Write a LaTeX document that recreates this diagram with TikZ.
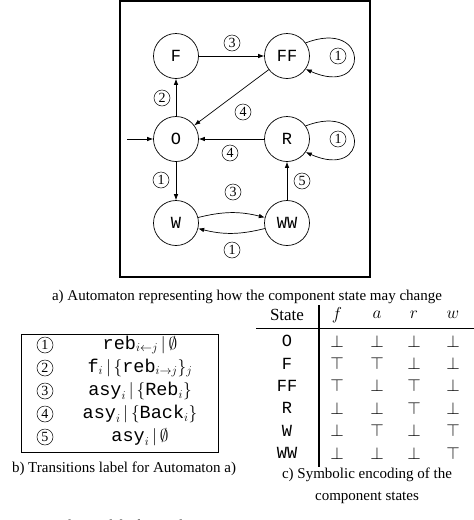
\documentclass[tikz,border=0pt]{standalone}
\usepackage{amsmath,amssymb}
\usepackage{fontspec}
\setmainfont{Liberation Serif}
\setmonofont{Liberation Mono}
\usetikzlibrary{positioning,arrows.meta}

\begin{document}
\begin{tikzpicture}[x=1pt,y=-1pt]
  % Styles local to this figure.
  \tikzset{
    state/.style={draw,circle,minimum size=45pt,inner sep=0pt,line width=0.7pt,
      font=\fontsize{17}{17}\selectfont\ttfamily},
    tnum/.style={draw,circle,minimum size=16pt,inner sep=0pt,line width=0.5pt,
      font=\fontsize{14}{14}\selectfont},
    edge/.style={-{Latex[length=6pt,width=4.5pt]},line width=0.7pt},
    capt/.style={font=\fontsize{15}{18}\selectfont},
    cell/.style={font=\fontsize{16}{16}\selectfont},
    ttcell/.style={font=\fontsize{17}{17}\selectfont\ttfamily}
  }
  \useasboundingbox (0,0) rectangle (474,520);

  % a) Automaton frame and states.
  \draw[line width=1.3pt] (120,1) rectangle (370,277);
  \node[state] (F)  at (176,56)  {F};
  \node[state] (FF) at (287,56)  {FF};
  \node[state] (O)  at (176,139) {O};
  \node[state] (R)  at (287,139) {R};
  \node[state] (W)  at (176,223) {W};
  \node[state] (WW) at (287,223) {WW};
  \coordinate (start) at (127,139);

  % Transitions.
  \draw[edge] (start) -- (O);
  \draw[edge] (O) -- (F);
  \draw[edge] (F) -- (FF);
  \draw[edge] (FF) -- (O);
  \draw[edge] (R) -- (O);
  \draw[edge] (O) -- (W);
  \draw[edge] (WW) -- (R);
  \draw[edge] (W) to[bend left=14] (WW);
  \draw[edge] (WW) to[bend left=14] (W);
  \draw[edge] (FF.35) .. controls (370,18) and (370,98) .. (FF.-35);
  \draw[edge] (R.35) .. controls (370,101) and (370,181) .. (R.-35);

  % Transition labels.
  \node[tnum] (l3a) at (232,43)  {3};
  \node[tnum] (l1a) at (338,56)  {1};
  \node[tnum] (l2)  at (162,98)  {2};
  \node[tnum] (l4a) at (243,112) {4};
  \node[tnum] (l1b) at (338,139) {1};
  \node[tnum] (l4b) at (230,153) {4};
  \node[tnum] (l1c) at (161,180) {1};
  \node[tnum] (l5)  at (302,181) {5};
  \node[tnum] (l3b) at (233,192) {3};
  \node[tnum] (l1d) at (232,250) {1};

  \node[capt] (capa) at (247,297) {a) Automaton representing how the component state may change};

  % b) Transition label table.
  \draw[line width=1pt] (21,334) rectangle (218,452);
  \foreach \n/\lab [count=\k] in {
      1/{$\texttt{reb}_{i\leftarrow j}\,|\,\emptyset$},
      2/{$\texttt{f}_i\,|\,\{\texttt{reb}_{i\rightarrow j}\}_j$},
      3/{$\texttt{asy}_i\,|\,\{\texttt{Reb}_i\}$},
      4/{$\texttt{asy}_i\,|\,\{\texttt{Back}_i\}$},
      5/{$\texttt{asy}_i\,|\,\emptyset$}} {
    \node[tnum] (bn\k) at (45,{345+23*(\k-1)}) {\n};
    \node[ttcell,font=\fontsize{18.5}{18.5}\selectfont\ttfamily] (bl\k) at (140,{345+23*(\k-1)}) {\lab};
  }
  \node[capt] (capb) at (124,469) {b) Transitions label for Automaton a)};

  % c) Symbolic encoding table.
  \node[cell,font=\fontsize{17}{17}\selectfont] (hs) at (287,315) {State};
  \node[cell] (hf) at (337,315) {$f$};
  \node[cell] (ha) at (377,315) {$a$};
  \node[cell] (hr) at (414,315) {$r$};
  \node[cell] (hw) at (453,315) {$w$};
  \draw[line width=1pt] (256,328) -- (474,328);
  \draw[line width=1.3pt] (319,305) -- (319,467);
  \foreach \st/\vf/\va/\vr/\vw [count=\k] in {
      O/\bot/\bot/\bot/\bot, F/\top/\top/\bot/\bot, FF/\top/\bot/\top/\bot,
      R/\bot/\bot/\top/\bot, W/\bot/\top/\bot/\top, WW/\bot/\bot/\bot/\top} {
    \node[ttcell] (cs\k) at (287,{341+22.4*(\k-1)}) {\st};
    \node[cell] (cf\k) at (337,{341+22.4*(\k-1)}) {$\vf$};
    \node[cell] (ca\k) at (377,{341+22.4*(\k-1)}) {$\va$};
    \node[cell] (cr\k) at (414,{341+22.4*(\k-1)}) {$\vr$};
    \node[cell] (cw\k) at (453,{341+22.4*(\k-1)}) {$\vw$};
  }
  \node[capt] (capc1) at (367,475) {c) Symbolic encoding of the};
  \node[capt] (capc2) at (367,498) {component states};

  % Figure caption, cut by the page edge.
  \node[capt,anchor=base west] (fig) at (2,530) {Fig.~1.\quad The model of a single};
\end{tikzpicture}
\end{document}
